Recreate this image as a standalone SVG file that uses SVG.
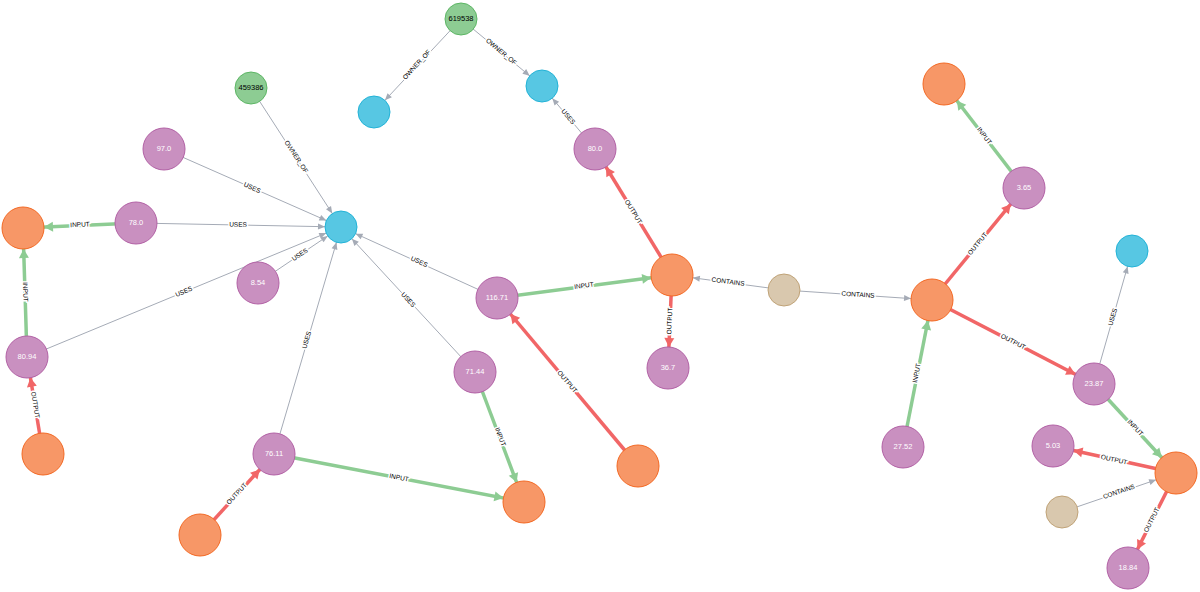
<svg xmlns="http://www.w3.org/2000/svg" width="1200" height="592" viewBox="0 0 1200 592">
<style>
.g{stroke:#a5abb6;stroke-width:1}
.r{stroke:#f16667;stroke-width:3.5}
.i{stroke:#8dcc93;stroke-width:3.5}
.l{font-family:"Liberation Sans",Arial,sans-serif;font-size:6.5px;fill:#000;text-anchor:middle;dominant-baseline:middle;paint-order:stroke;stroke:#fff;stroke-width:3px}
.o{fill:#f79767;stroke:#f36924}
.p{fill:#c990c0;stroke:#b261a5}
.b{fill:#57c7e3;stroke:#23b3d7}
.n{fill:#8dcc93;stroke:#5db665}
.t{fill:#d9c8ae;stroke:#c0a378}
.nt{font-family:"Liberation Sans",Arial,sans-serif;font-size:7.5px;fill:#fff;text-anchor:middle;dominant-baseline:middle}
.nk{fill:#000}
</style>
<defs>
<marker id="g16" markerUnits="userSpaceOnUse" markerWidth="40" markerHeight="10" refX="16" refY="0" viewBox="-10 -5 40 10" orient="auto"><path d="M0,0L-7,-3L-7,3z" fill="#a5abb6"/></marker>
<marker id="g21" markerUnits="userSpaceOnUse" markerWidth="40" markerHeight="10" refX="21" refY="0" viewBox="-10 -5 40 10" orient="auto"><path d="M0,0L-7,-3L-7,3z" fill="#a5abb6"/></marker>
<marker id="r21" markerUnits="userSpaceOnUse" markerWidth="40" markerHeight="12" refX="21" refY="0" viewBox="-10 -6 40 12" orient="auto"><path d="M0,0L-9,-5L-9,5z" fill="#f16667"/></marker>
<marker id="i21" markerUnits="userSpaceOnUse" markerWidth="40" markerHeight="12" refX="21" refY="0" viewBox="-10 -6 40 12" orient="auto"><path d="M0,0L-9,-5L-9,5z" fill="#8dcc93"/></marker>
</defs>
<g id="connectors">
<line class="g" x1="461" y1="19" x2="374" y2="112" marker-end="url(#g16)"/><text class="l" transform="translate(417,65) rotate(-47)">OWNER_OF</text>
<line class="g" x1="461" y1="19" x2="542" y2="86" marker-end="url(#g16)"/><text class="l" transform="translate(501,52) rotate(39.6)">OWNER_OF</text>
<line class="g" x1="595" y1="149" x2="542" y2="86" marker-end="url(#g16)"/><text class="l" transform="translate(568,117) rotate(50)">USES</text>
<line class="g" x1="251" y1="88" x2="341" y2="227" marker-end="url(#g16)"/><text class="l" transform="translate(296,157) rotate(57)">OWNER_OF</text>
<line class="g" x1="164" y1="149" x2="341" y2="227" marker-end="url(#g16)"/><text class="l" transform="translate(252,188) rotate(23.8)">USES</text>
<line class="g" x1="136" y1="223" x2="341" y2="227" marker-end="url(#g16)"/><text class="l" transform="translate(238,225) rotate(1)">USES</text>
<line class="g" x1="258" y1="283" x2="341" y2="227" marker-end="url(#g16)"/><text class="l" transform="translate(300,255) rotate(-34)">USES</text>
<line class="g" x1="27" y1="357" x2="341" y2="227" marker-end="url(#g16)"/><text class="l" transform="translate(184,292) rotate(-22.5)">USES</text>
<line class="g" x1="497" y1="298" x2="341" y2="227" marker-end="url(#g16)"/><text class="l" transform="translate(419,262) rotate(24.5)">USES</text>
<line class="g" x1="475" y1="372" x2="341" y2="227" marker-end="url(#g16)"/><text class="l" transform="translate(408,300) rotate(47)">USES</text>
<line class="g" x1="274" y1="454" x2="341" y2="227" marker-end="url(#g16)"/><text class="l" transform="translate(307,340) rotate(-73.6)">USES</text>
<line class="i" x1="136" y1="223" x2="23" y2="228" marker-end="url(#i21)"/><text class="l" transform="translate(80,225) rotate(-2.5)">INPUT</text>
<line class="i" x1="27" y1="357" x2="23" y2="228" marker-end="url(#i21)"/><text class="l" transform="translate(25,292) rotate(88.2)">INPUT</text>
<line class="r" x1="43" y1="454" x2="27" y2="357" marker-end="url(#r21)"/><text class="l" transform="translate(35,405) rotate(80.6)">OUTPUT</text>
<line class="r" x1="200" y1="535" x2="274" y2="454" marker-end="url(#r21)"/><text class="l" transform="translate(237,494) rotate(-47.6)">OUTPUT</text>
<line class="i" x1="274" y1="454" x2="524" y2="502" marker-end="url(#i21)"/><text class="l" transform="translate(399,478) rotate(10.9)">INPUT</text>
<line class="i" x1="475" y1="372" x2="524" y2="502" marker-end="url(#i21)"/><text class="l" transform="translate(500,437) rotate(69.4)">INPUT</text>
<line class="r" x1="638" y1="466" x2="497" y2="298" marker-end="url(#r21)"/><text class="l" transform="translate(567,382) rotate(50)">OUTPUT</text>
<line class="i" x1="497" y1="298" x2="672" y2="275" marker-end="url(#i21)"/><text class="l" transform="translate(584,286) rotate(-7.5)">INPUT</text>
<line class="r" x1="672" y1="275" x2="595" y2="149" marker-end="url(#r21)"/><text class="l" transform="translate(633,212) rotate(58.6)">OUTPUT</text>
<line class="r" x1="672" y1="275" x2="668" y2="368" marker-end="url(#r21)"/><text class="l" transform="translate(670,321) rotate(-87.5)">OUTPUT</text>
<line class="g" x1="784" y1="290" x2="672" y2="275" marker-end="url(#g21)"/><text class="l" transform="translate(728,282) rotate(7.6)">CONTAINS</text>
<line class="g" x1="784" y1="290" x2="932" y2="300" marker-end="url(#g21)"/><text class="l" transform="translate(858,295) rotate(3.9)">CONTAINS</text>
<line class="r" x1="932" y1="300" x2="1024" y2="188" marker-end="url(#r21)"/><text class="l" transform="translate(978,244) rotate(-50.6)">OUTPUT</text>
<line class="i" x1="1024" y1="188" x2="944" y2="84" marker-end="url(#i21)"/><text class="l" transform="translate(984,136) rotate(52.4)">INPUT</text>
<line class="r" x1="932" y1="300" x2="1094" y2="384" marker-end="url(#r21)"/><text class="l" transform="translate(1013,342) rotate(27.4)">OUTPUT</text>
<line class="i" x1="903" y1="447" x2="932" y2="300" marker-end="url(#i21)"/><text class="l" transform="translate(917,373) rotate(-78.8)">INPUT</text>
<line class="g" x1="1094" y1="384" x2="1132" y2="251" marker-end="url(#g16)"/><text class="l" transform="translate(1113,317) rotate(-74)">USES</text>
<line class="i" x1="1094" y1="384" x2="1176" y2="473" marker-end="url(#i21)"/><text class="l" transform="translate(1135,428) rotate(47.3)">INPUT</text>
<line class="r" x1="1176" y1="473" x2="1053" y2="446" marker-end="url(#r21)"/><text class="l" transform="translate(1114,460) rotate(12.4)">OUTPUT</text>
<line class="r" x1="1176" y1="473" x2="1128" y2="568" marker-end="url(#r21)"/><text class="l" transform="translate(1152,520) rotate(-63.2)">OUTPUT</text>
<line class="g" x1="1062" y1="512" x2="1176" y2="473" marker-end="url(#g21)"/><text class="l" transform="translate(1119,492) rotate(-18.9)">CONTAINS</text>
</g>
<g id="n619538"><circle class="n" cx="461" cy="19" r="16"/><text class="nt nk" x="461" y="19">619538</text></g>
<g id="n459386"><circle class="n" cx="251" cy="88" r="16"/><text class="nt nk" x="251" y="88">459386</text></g>
<g id="bA"><circle class="b" cx="374" cy="112" r="16"/></g>
<g id="bB"><circle class="b" cx="542" cy="86" r="16"/></g>
<g id="bC"><circle class="b" cx="341" cy="227" r="16"/></g>
<g id="bR"><circle class="b" cx="1132" cy="251" r="16"/></g>
<g id="p80"><circle class="p" cx="595" cy="149" r="21"/><text class="nt" x="595" y="149">80.0</text></g>
<g id="p97"><circle class="p" cx="164" cy="149" r="21"/><text class="nt" x="164" y="149">97.0</text></g>
<g id="p78"><circle class="p" cx="136" cy="223" r="21"/><text class="nt" x="136" y="223">78.0</text></g>
<g id="p854"><circle class="p" cx="258" cy="283" r="21"/><text class="nt" x="258" y="283">8.54</text></g>
<g id="p8094"><circle class="p" cx="27" cy="357" r="21"/><text class="nt" x="27" y="357">80.94</text></g>
<g id="p11671"><circle class="p" cx="497" cy="298" r="21"/><text class="nt" x="497" y="298">116.71</text></g>
<g id="p367"><circle class="p" cx="668" cy="368" r="21"/><text class="nt" x="668" y="368">36.7</text></g>
<g id="p7144"><circle class="p" cx="475" cy="372" r="21"/><text class="nt" x="475" y="372">71.44</text></g>
<g id="p7611"><circle class="p" cx="274" cy="454" r="21"/><text class="nt" x="274" y="454">76.11</text></g>
<g id="p365"><circle class="p" cx="1024" cy="188" r="21"/><text class="nt" x="1024" y="188">3.65</text></g>
<g id="p2387"><circle class="p" cx="1094" cy="384" r="21"/><text class="nt" x="1094" y="384">23.87</text></g>
<g id="p2752"><circle class="p" cx="903" cy="447" r="21"/><text class="nt" x="903" y="447">27.52</text></g>
<g id="p503"><circle class="p" cx="1053" cy="446" r="21"/><text class="nt" x="1053" y="446">5.03</text></g>
<g id="p1884"><circle class="p" cx="1128" cy="568" r="21"/><text class="nt" x="1128" y="568">18.84</text></g>
<g id="oL"><circle class="o" cx="23" cy="228" r="21"/></g>
<g id="oL2"><circle class="o" cx="43" cy="454" r="21"/></g>
<g id="oB1"><circle class="o" cx="200" cy="535" r="21"/></g>
<g id="oB2"><circle class="o" cx="524" cy="502" r="21"/></g>
<g id="oB3"><circle class="o" cx="638" cy="466" r="21"/></g>
<g id="oC"><circle class="o" cx="672" cy="275" r="21"/></g>
<g id="oR"><circle class="o" cx="932" cy="300" r="21"/></g>
<g id="oTR"><circle class="o" cx="944" cy="84" r="21"/></g>
<g id="oBR"><circle class="o" cx="1176" cy="473" r="21"/></g>
<g id="t1"><circle class="t" cx="784" cy="290" r="16"/></g>
<g id="t2"><circle class="t" cx="1062" cy="512" r="16"/></g>
</svg>
